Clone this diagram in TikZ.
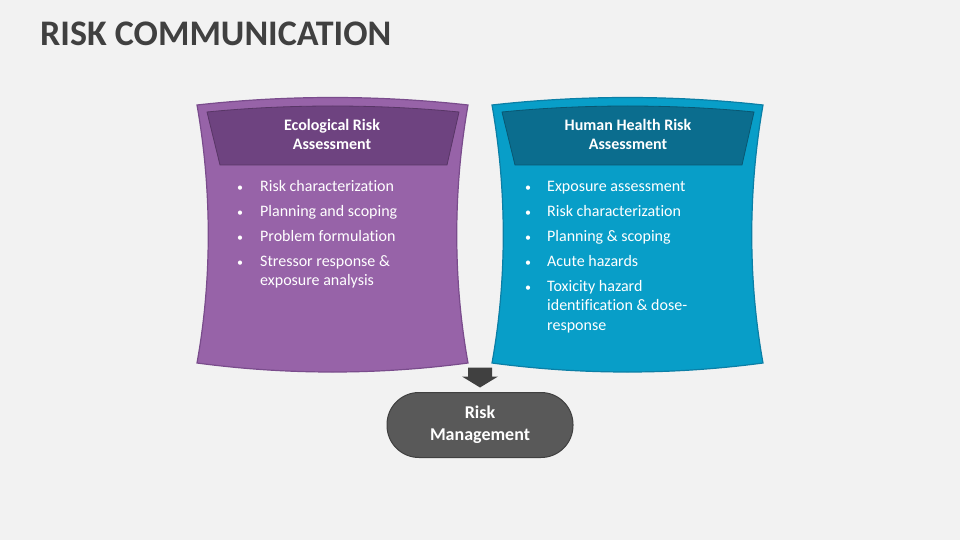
\documentclass[tikz,border=0pt]{standalone}
\usepackage{fontspec}
\setmainfont{Carlito}[Ligatures=NoCommon]
\usepackage{tikz}
\usetikzlibrary{positioning, calc}
\definecolor{FondoGris} {RGB}{242,242,242}
\definecolor{TextoGris} {RGB}{64, 64, 64}
\definecolor{Morado}    {RGB}{151,99, 168}
\definecolor{MoradoOsc} {RGB}{110,67, 128}
\definecolor{MoradoBorde}{RGB}{122,76,140}
\definecolor{Azul}      {RGB}{8,  158,200}
\definecolor{AzulOsc}   {RGB}{11, 109,142}
\definecolor{AzulBorde} {RGB}{11, 127,166}
\definecolor{GrisMedio} {RGB}{89, 89, 89}

\begin{document}
\begin{tikzpicture}[
      x=1pt, y=-1pt,
      titulo/.style ={anchor=base west,text=TextoGris,inner sep=0pt,
                      font=\fontsize{36}{42}\selectfont\bfseries},
      cabeza/.style ={text=white,align=center,inner sep=0pt,
                      font=\fontsize{16}{19}\selectfont\bfseries},
      item/.style   ={anchor=base west,text=white,inner sep=0pt,
                      font=\fontsize{16}{19.5}\selectfont},
      punto/.style  ={anchor=base,text=white,inner sep=0pt,
                      font=\fontsize{12}{14}\selectfont},
      gestion/.style={draw=TextoGris,line width=1pt,fill=GrisMedio,text=white,
                      rounded corners=32pt,minimum width=186pt,
                      minimum height=65pt,align=center,
                      font=\fontsize{18}{22}\selectfont\bfseries},
      flecha/.style ={fill=TextoGris}]
      \fill[FondoGris] (0,0) rectangle (960,540);
      \node[titulo] (title) at (40,46) {RISK COMMUNICATION};
      % panels
      \foreach \x/\c/\h/\b in {197/Morado/MoradoOsc/MoradoBorde,
                               492/Azul/AzulOsc/AzulBorde}{
        \begin{scope}[shift={(\x,0)}]
          \draw[fill=\c,draw=\b,line width=1.2pt]
            (0,105) .. controls (90,95) and (181,95) .. (271,105)
            .. controls (256,190) and (256,280) .. (271,363)
            .. controls (181,375) and (90,375) .. (0,363)
            .. controls (15,280) and (15,190) .. (0,105) -- cycle;
          \draw[fill=\h,draw=\h!80!black,line width=0.8pt]
            (10,112) .. controls (90,104) and (181,104) .. (262,112)
            -- (250,165) -- (23,165) -- cycle;
        \end{scope}}
      \node[cabeza] (ecohead) at (332,134) {Ecological Risk\\Assessment};
      \node[cabeza] (humhead) at (628,134) {Human Health Risk\\Assessment};
      \foreach \t [count=\i] in {Risk characterization, Planning and scoping,
          Problem formulation, {Stressor response \&\\exposure analysis}}{
        \node[punto] (ecob\i) at (240,166+25*\i) {\textbullet};
        \node[item]  (eco\i)  at (260,166+25*\i)
          {\parbox[t]{170pt}{\raggedright\t}};}
      \foreach \t [count=\i] in {Exposure assessment, Risk characterization,
          Planning \& scoping, Acute hazards,
          {Toxicity hazard\\identification \& dose-\\response}}{
        \node[punto] (humb\i) at (528,166+25*\i) {\textbullet};
        \node[item]  (hum\i)  at (547,166+25*\i)
          {\parbox[t]{170pt}{\raggedright\t}};}
      % result
      \node[gestion] (mgmt) at (480,425) {Risk\\Management};
      \coordinate[above=4.5pt of mgmt.north] (punta);
      \fill[flecha] (punta) -- ++(-18,-11) -- ++(6,0) -- ++(0,-9)
        -- ++(24,0) -- ++(0,9) -- ++(6,0) -- cycle;
    \end{tikzpicture}
\end{document}
